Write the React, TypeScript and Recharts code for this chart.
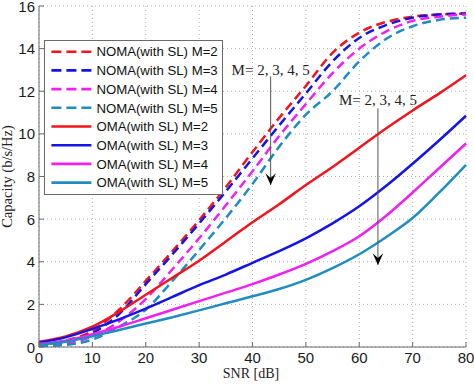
import React from 'react';
import { LineChart, Line, XAxis, YAxis, CartesianGrid, ReferenceLine, ReferenceDot, Legend } from 'recharts';

const snrDb = [0, 5, 10, 15, 20, 25, 30, 35, 40, 45, 50, 55, 60, 65, 70, 75, 80];

const nomaM2 = [0.15, 0.3, 0.75, 1.75, 3.1, 4.5, 5.95, 7.5, 9.15, 10.75, 12.25, 13.8, 14.75, 15.25, 15.5, 15.6, 15.65];
const nomaM3 = [0.1, 0.25, 0.65, 1.55, 2.95, 4.35, 5.8, 7.3, 8.85, 10.4, 11.9, 13.4, 14.5, 15.1, 15.45, 15.6, 15.65];
const nomaM4 = [0.05, 0.15, 0.5, 1.2, 2.25, 3.65, 5.1, 6.65, 8.25, 9.9, 11.4, 12.85, 14.0, 14.8, 15.3, 15.5, 15.6];
const nomaM5 = [0.05, 0.1, 0.35, 0.95, 1.75, 3.1, 4.55, 6.05, 7.65, 9.4, 10.9, 12.0, 13.4, 14.45, 15.05, 15.35, 15.45];

const omaM2 = [0.25, 0.5, 0.95, 1.65, 2.45, 3.25, 4.05, 4.95, 5.85, 6.7, 7.6, 8.45, 9.35, 10.25, 11.1, 11.9, 12.75];
const omaM3 = [0.2, 0.45, 0.85, 1.3, 1.8, 2.35, 2.9, 3.4, 3.95, 4.5, 5.1, 5.8, 6.6, 7.55, 8.6, 9.7, 10.85];
const omaM4 = [0.15, 0.3, 0.6, 0.95, 1.35, 1.75, 2.15, 2.55, 2.95, 3.4, 3.9, 4.5, 5.2, 6.15, 7.25, 8.4, 9.55];
const omaM5 = [0.1, 0.25, 0.5, 0.8, 1.1, 1.4, 1.72, 2.05, 2.38, 2.72, 3.15, 3.7, 4.35, 5.15, 6.05, 7.25, 8.55];

const xTicks = [0, 10, 20, 30, 40, 50, 60, 70, 80];
const yTicks = [0, 2, 4, 6, 8, 10, 12, 14, 16];

const seriesNames = [
  'NOMA(with SL) M=2',
  'NOMA(with SL) M=3',
  'NOMA(with SL) M=4',
  'NOMA(with SL) M=5',
  'OMA(with SL) M=2',
  'OMA(with SL) M=3',
  'OMA(with SL) M=4',
  'OMA(with SL) M=5',
];
const seriesValues = [nomaM2, nomaM3, nomaM4, nomaM5, omaM2, omaM3, omaM4, omaM5];

const annotationLabel = 'M= 2, 3, 4, 5';
const arrowNoma = { x: 43.4, from: 12.7, to: 7.6, text: 13.0 };
const arrowOma = { x: 63.5, from: 11.2, to: 3.85, text: 11.6 };

const RED = '#f2141c';
const BLUE = '#1414e6';
const MAGENTA = '#f020f0';
const TEAL = '#1f8dbf';
const colors = [RED, BLUE, MAGENTA, TEAL, RED, BLUE, MAGENTA, TEAL];
const DASH = '9 5';
const FRAME = '#6a6a6a';
const SANS = '"Liberation Sans", Arial, Helvetica, sans-serif';
const SERIF = '"Liberation Serif", "Times New Roman", serif';

const series = seriesNames.map((name, i) => ({
  key: `s${i}`,
  name,
  color: colors[i],
  dashed: i < 4,
  values: seriesValues[i],
}));

const data = snrDb.map((snr, j) => {
  const row: Record<string, number> = { snr };
  series.forEach((s) => {
    row[s.key] = s.values[j];
  });
  return row;
});

const BottomTick = (props: any) => {
  const { x, y, payload } = props;
  return (
    <g>
      <line x1={x} x2={x} y1={y} y2={y - 5} stroke={FRAME} strokeWidth={1} />
      <text x={x} y={y + 16} textAnchor="middle" fontSize={15} fontFamily={SANS} fill="#1a1a1a">
        {payload.value}
      </text>
    </g>
  );
};

const TopTick = (props: any) => {
  const { x, y } = props;
  return <line x1={x} x2={x} y1={y} y2={y + 5} stroke={FRAME} strokeWidth={1} />;
};

const LeftTick = (props: any) => {
  const { x, y, payload } = props;
  return (
    <g>
      <line x1={x} x2={x + 5} y1={y} y2={y} stroke={FRAME} strokeWidth={1} />
      <text x={x - 4} y={y + 5.5} textAnchor="end" fontSize={15} fontFamily={SANS} fill="#1a1a1a">
        {payload.value}
      </text>
    </g>
  );
};

const RightTick = (props: any) => {
  const { x, y } = props;
  return <line x1={x} x2={x - 5} y1={y} y2={y} stroke={FRAME} strokeWidth={1} />;
};

const ArrowHead = (props: any) => {
  const { cx, cy } = props;
  return (
    <path
      d={`M ${cx} ${cy} L ${cx - 5.3} ${cy - 11.7} L ${cx} ${cy - 7} L ${cx + 5.3} ${cy - 11.7} Z`}
      fill="#000"
      stroke="none"
    />
  );
};

const AnnotationText = (props: any) => {
  const { cx, cy } = props;
  return (
    <text x={cx} y={cy + 5} textAnchor="middle" fontSize={15} fontFamily={SERIF} fill="#222">
      {annotationLabel}
    </text>
  );
};

const LegendBox = () => {
  const rowH = 18.7;
  return (
    <svg width={179} height={155} style={{ display: 'block' }}>
      <rect x={0.5} y={0.5} width={178} height={154} fill="#fff" stroke={FRAME} strokeWidth={1} />
      {series.map((s, i) => {
        const cy = 11.7 + i * rowH;
        return (
          <g key={s.key}>
            <line
              x1={7.4}
              x2={47.4}
              y1={cy}
              y2={cy}
              stroke={s.color}
              strokeWidth={2.6}
              strokeDasharray={s.dashed ? '10 5' : undefined}
            />
            <text x={52.4} y={cy + 4.7} fontSize={13.2} fontFamily={SANS} fill="#111">
              {s.name}
            </text>
          </g>
        );
      })}
    </svg>
  );
};

export default function App() {
  return (
    <div style={{ position: 'absolute', left: 0, top: 0, width: 474, height: 384, background: '#fff' }}>
      <LineChart width={474} height={384} data={data} margin={{ top: 6, right: 8, bottom: 0, left: 0 }}>
        <CartesianGrid stroke="#b0b0b0" strokeDasharray="1 3" strokeWidth={1} />
        <XAxis
          dataKey="snr"
          type="number"
          domain={[0, 80]}
          ticks={xTicks}
          interval={0}
          height={37}
          tickSize={0}
          tickMargin={0}
          tick={<BottomTick />}
          axisLine={{ stroke: FRAME, strokeWidth: 1 }}
          tickLine={false}
          label={{
            content: () => (
              <text x={251} y={378} textAnchor="middle" fontSize={14} fontFamily={SERIF} fill="#222">
                SNR [dB]
              </text>
            ),
          }}
        />
        <XAxis
          xAxisId="top"
          orientation="top"
          dataKey="snr"
          type="number"
          domain={[0, 80]}
          ticks={xTicks}
          interval={0}
          height={0}
          tickSize={0}
          tickMargin={0}
          tick={<TopTick />}
          axisLine={{ stroke: FRAME, strokeWidth: 1 }}
          tickLine={false}
        />
        <YAxis
          type="number"
          domain={[0, 16]}
          ticks={yTicks}
          interval={0}
          width={39}
          tickSize={0}
          tickMargin={0}
          tick={<LeftTick />}
          axisLine={{ stroke: FRAME, strokeWidth: 1 }}
          tickLine={false}
          label={{
            content: () => (
              <text
                x={12}
                y={176.5}
                transform="rotate(-90 12 176.5)"
                textAnchor="middle"
                fontSize={14.5}
                fontFamily={SERIF}
                fill="#222"
              >
                Capacity (b/s/Hz)
              </text>
            ),
          }}
        />
        <YAxis
          yAxisId="right"
          orientation="right"
          type="number"
          domain={[0, 16]}
          ticks={yTicks}
          interval={0}
          width={0}
          tickSize={0}
          tickMargin={0}
          tick={<RightTick />}
          axisLine={{ stroke: FRAME, strokeWidth: 1 }}
          tickLine={false}
        />
        {series.map((s) => (
          <Line
            key={s.key}
            dataKey={s.key}
            name={s.name}
            type="monotone"
            stroke={s.color}
            strokeWidth={2.5}
            strokeDasharray={s.dashed ? DASH : undefined}
            dot={false}
            activeDot={false}
            isAnimationActive={false}
          />
        ))}
        <ReferenceLine
          segment={[
            { x: arrowNoma.x, y: arrowNoma.from },
            { x: arrowNoma.x, y: arrowNoma.to },
          ]}
          stroke="#555"
          strokeWidth={1}
        />
        <ReferenceLine
          segment={[
            { x: arrowOma.x, y: arrowOma.from },
            { x: arrowOma.x, y: arrowOma.to },
          ]}
          stroke="#555"
          strokeWidth={1}
        />
        <ReferenceDot x={arrowNoma.x} y={arrowNoma.to} r={0} shape={<ArrowHead />} />
        <ReferenceDot x={arrowOma.x} y={arrowOma.to} r={0} shape={<ArrowHead />} />
        <ReferenceDot x={arrowNoma.x} y={arrowNoma.text} r={0} shape={<AnnotationText />} />
        <ReferenceDot x={arrowOma.x} y={arrowOma.text} r={0} shape={<AnnotationText />} />
        <Legend
          layout="vertical"
          align="center"
          verticalAlign="middle"
          content={() => <LegendBox />}
          wrapperStyle={{ left: 44, top: 40, width: 179, height: 155 }}
        />
      </LineChart>
    </div>
  );
}
